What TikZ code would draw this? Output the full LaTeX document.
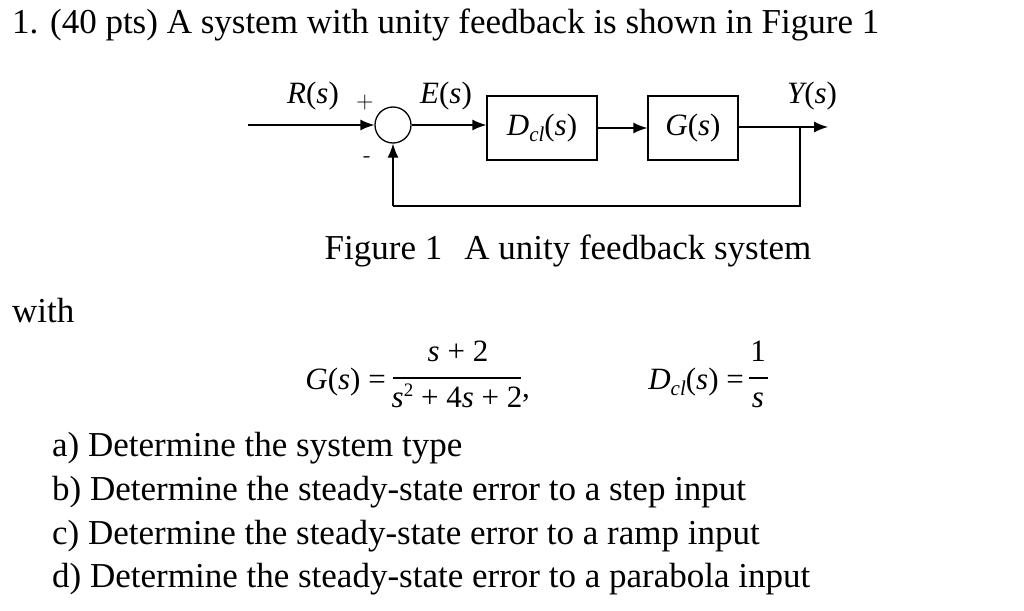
\documentclass[tikz,border=0pt]{standalone}
\usepackage{fontspec}
\setmainfont{Liberation Serif}
\usetikzlibrary{arrows.meta}
\begin{document}
\begin{tikzpicture}[x=1pt,y=-1pt,
  txt/.style={font=\fontsize{35}{40}\selectfont,inner sep=0pt},
  lab/.style={font=\fontsize{31}{34}\selectfont\itshape,inner sep=0pt},
  blk/.style={draw,line width=1.3pt,minimum width=#1,minimum height=64pt,inner sep=0pt,font=\fontsize{31}{34}\selectfont\itshape},
  sig/.style={line width=1.3pt,-{Latex[length=14pt,width=11pt]}},
  ln/.style={line width=1.3pt}]
\useasboundingbox (0,0) rectangle (1024,610);
\node[txt,anchor=base west] (title) at (12,34) {1. (40 pts) A system with unity feedback is shown in Figure 1};
\node[draw,circle,line width=1.3pt,minimum size=36pt,inner sep=0pt] (sum) at (393,125) {};
\node[blk=110pt] (D) at (542,128) {D\raisebox{-6pt}{\fontsize{21}{24}\selectfont cl}\upshape(\itshape s\upshape)};
\node[blk=90pt] (G) at (693,128) {G\upshape(\itshape s\upshape)};
\coordinate (in) at (248,125);
\coordinate (out) at (828,127);
\coordinate (br) at (800,127);
\coordinate (fb) at (800,206);
\coordinate (fb2) at (393,206);
\draw[sig] (in) -- (sum.west);
\draw[sig] (sum.east) -- (D.west |- sum.east);
\draw[sig] (D.east |- G.west) -- (G.west);
\draw[sig] (G.east |- out) -- (out);
\draw[ln] (br) -- (fb) -- (fb2);
\draw[sig] (fb2) -- (sum.south);
\node[lab,anchor=base] (R) at (313,103) {R\upshape(\itshape s\upshape)};
\node[lab,anchor=base] (E) at (446,103) {E\upshape(\itshape s\upshape)};
\node[lab,anchor=base] (Y) at (812,103) {Y\upshape(\itshape s\upshape)};
\node[font=\fontsize{24}{26}\selectfont\sffamily,inner sep=0pt] (plus) at (365,103) {+};
\node[font=\fontsize{24}{26}\selectfont\sffamily,inner sep=0pt] (minus) at (367,160) {-};
\node[txt,anchor=base] (cap) at (568,259) {Figure 1\hspace{22pt}A unity feedback system};
\node[txt,anchor=base west] (with) at (12,322) {with};
\node[lab,anchor=base east] (Geq) at (386,389) {G\upshape(\itshape s\upshape) =};
\node[lab,anchor=base] (Gnum) at (458,361) {s \upshape+ 2};
\draw[line width=1.2pt] (393,378) -- (521,378);
\node[lab,anchor=base] (Gden) at (457,407) {s\upshape\raisebox{11pt}{\fontsize{19}{21}\selectfont 2} + 4\itshape s \upshape+ 2};
\node[lab,anchor=base west] (comma) at (522,397) {\upshape,};
\node[lab,anchor=base east] (Deq) at (744,389) {D\raisebox{-6pt}{\fontsize{21}{24}\selectfont cl}\upshape(\itshape s\upshape) =};
\node[lab,anchor=base] (Dnum) at (758,361) {\upshape 1};
\draw[line width=1.2pt] (749,378) -- (768,378);
\node[lab,anchor=base] (Dden) at (758,407) {s};
\node[txt,anchor=base west] (a) at (52,456) {a) Determine the system type};
\node[txt,anchor=base west] (b) at (52,500) {b) Determine the steady-state error to a step input};
\node[txt,anchor=base west] (c) at (52,544) {c) Determine the steady-state error to a ramp input};
\node[txt,anchor=base west] (d) at (52,587) {d) Determine the steady-state error to a parabola input};
\end{tikzpicture}
\end{document}
